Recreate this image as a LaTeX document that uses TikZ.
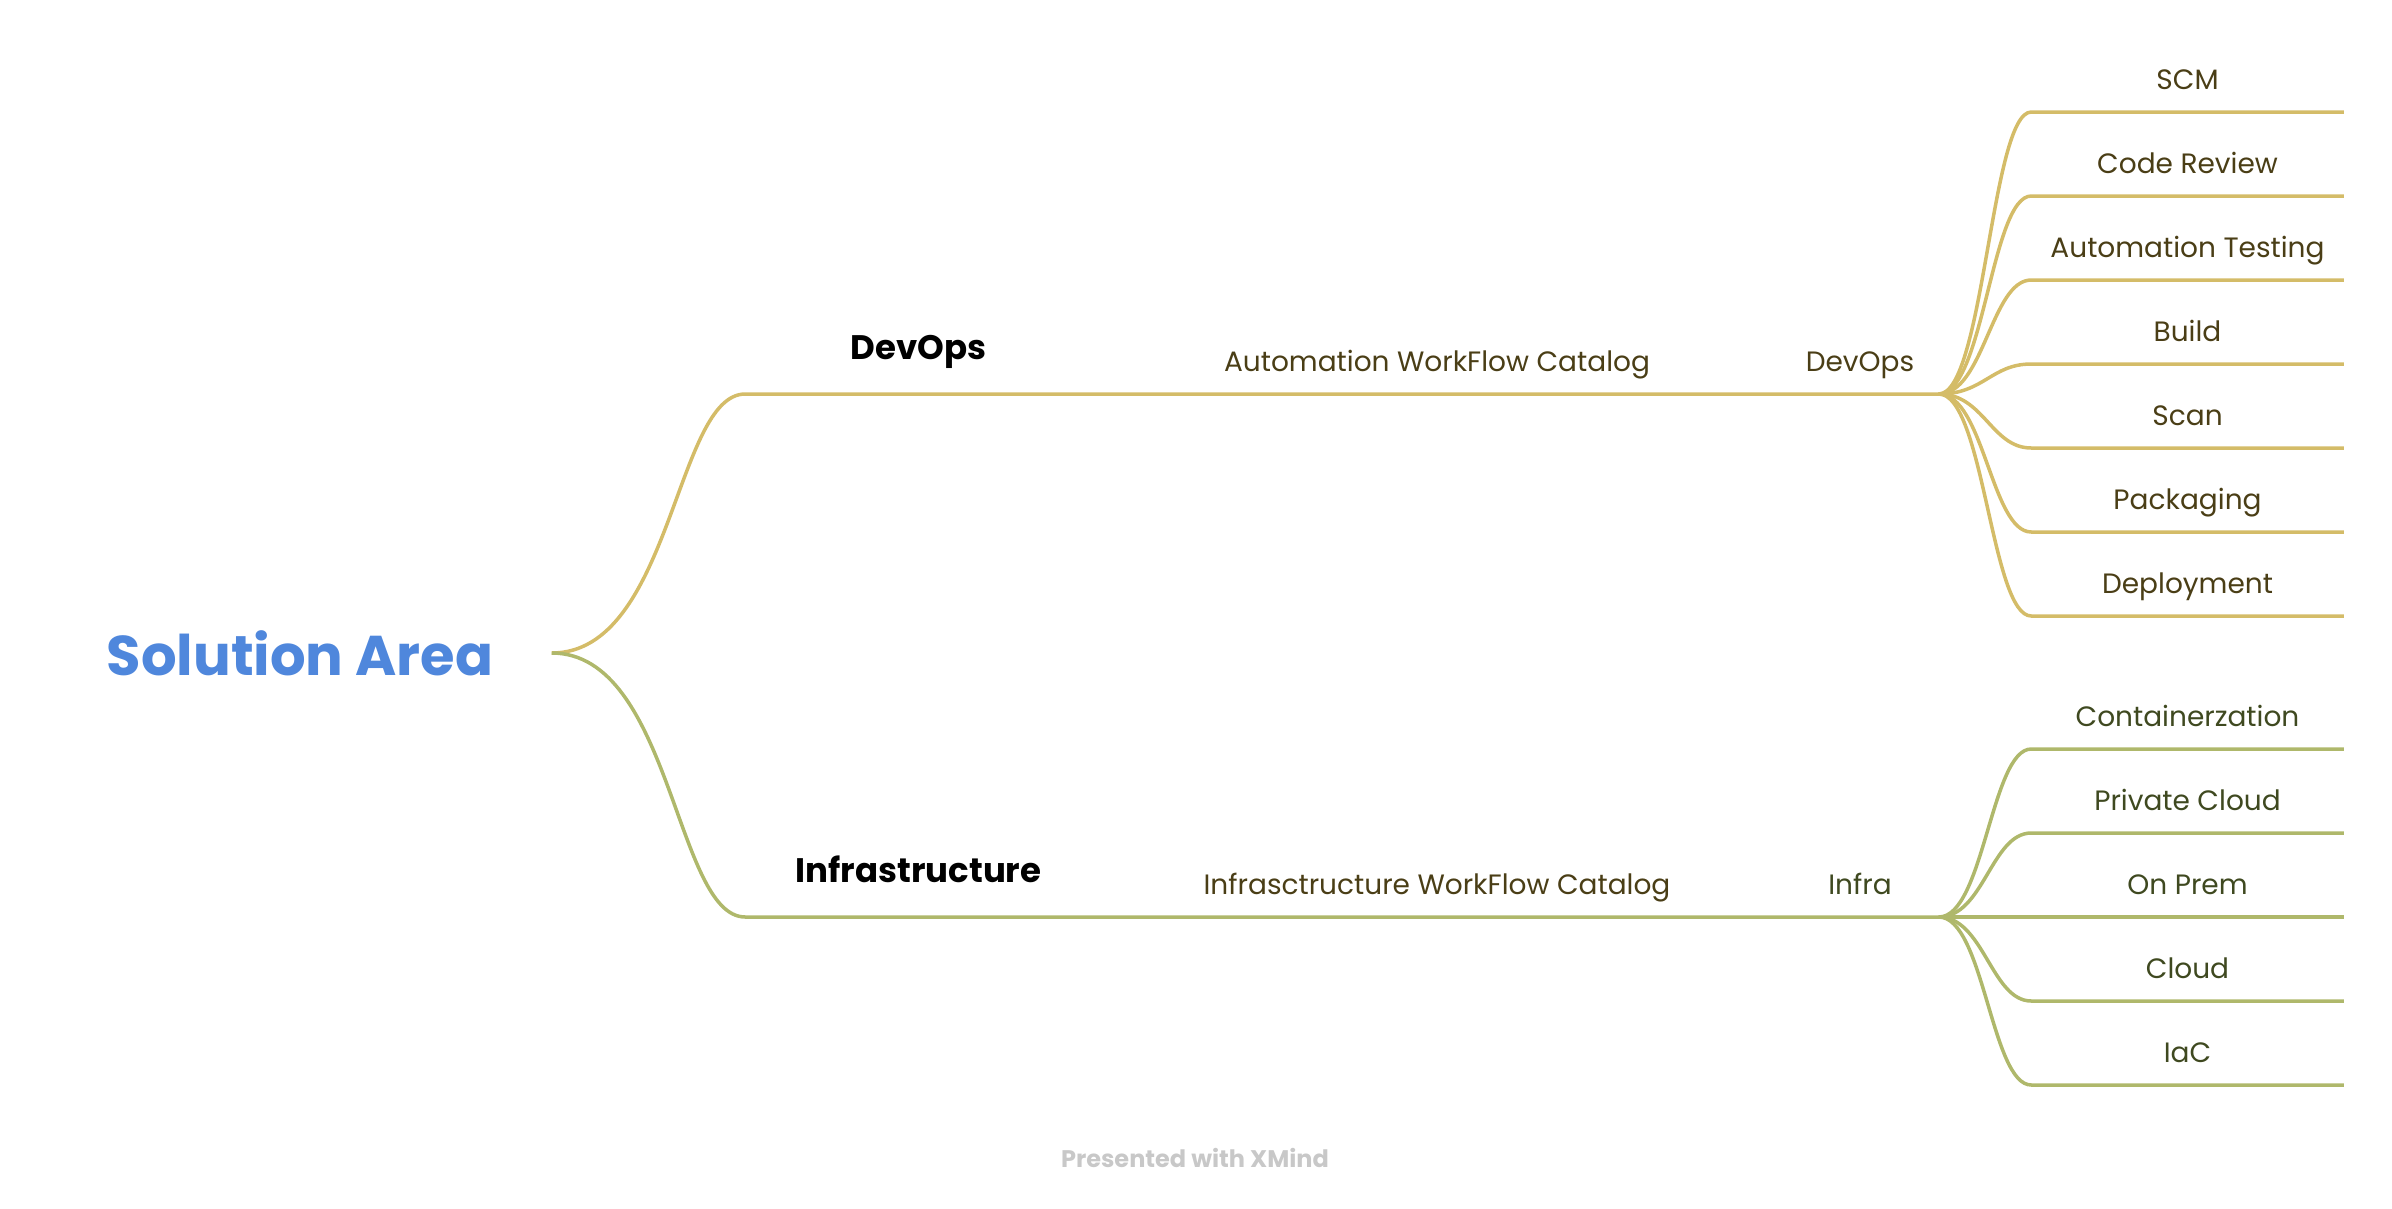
\documentclass[tikz,border=0pt]{standalone}
\usepackage{fontspec}
\setmainfont{Poppins}
\usepackage{tikz}
\usetikzlibrary{positioning}

\definecolor{rootblue}{HTML}{4F87DC}
\definecolor{devgold}{HTML}{D4BC68}
\definecolor{infgreen}{HTML}{AFB86B}
\definecolor{devtext}{HTML}{4A3E16}
\definecolor{inftext}{HTML}{3F4920}
\definecolor{wmgrey}{HTML}{C8C8C8}

\begin{document}
\begin{tikzpicture}[
    x=1pt, y=-1pt,
    line width=3.5pt,
    topic/.style={inner sep=0pt, anchor=south},
    main/.style={topic, font=\fontsize{34}{40}\selectfont\bfseries,
      text height=25pt, text depth=8pt, minimum width=343pt, minimum height=83pt},
    sub/.style={topic, font=\fontsize{28}{34}\selectfont,
      text height=20pt, text depth=7pt, minimum height=54pt},
    leaf/.style={sub, minimum width=309pt},
    devline/.style={draw=devgold},
    infline/.style={draw=infgreen}
  ]
  \useasboundingbox (0,0) rectangle (2392,1208);

  \node[font=\fontsize{56}{64}\selectfont\bfseries, text=rootblue,
    inner sep=0pt, minimum width=500pt] (root) at (300,653) {Solution Area};

  % DevOps branch
  \node[main] (devops) at (918.5,394) {DevOps};
  \node[sub, text=devtext, minimum width=474pt] (devcat) at (1437,394) {Automation WorkFlow Catalog};
  \node[sub, text=devtext, minimum width=154pt] (devtools) at (1860,394) {DevOps};
  \node[leaf, text=devtext] (scm) at (2187.5,112) {SCM};
  \node[leaf, text=devtext] (review) at (2187.5,196) {Code Review};
  \node[leaf, text=devtext] (testing) at (2187.5,280) {Automation Testing};
  \node[leaf, text=devtext] (build) at (2187.5,364) {Build};
  \node[leaf, text=devtext] (scan) at (2187.5,448) {Scan};
  \node[leaf, text=devtext] (packaging) at (2187.5,532) {Packaging};
  \node[leaf, text=devtext] (deploy) at (2187.5,616) {Deployment};

  % Infrastructure branch
  \node[main] (infra) at (918.5,917) {Infrastructure};
  \node[sub, text=devtext, minimum width=474pt] (infracat) at (1437,917) {Infrasctructure WorkFlow Catalog};
  \node[sub, text=inftext, minimum width=154pt] (infratools) at (1860,917) {Infra};
  \node[leaf, text=inftext] (container) at (2187.5,749) {Containerzation};
  \node[leaf, text=inftext] (private) at (2187.5,833) {Private Cloud};
  \node[leaf, text=inftext] (onprem) at (2187.5,917) {On Prem};
  \node[leaf, text=inftext] (cloud) at (2187.5,1001) {Cloud};
  \node[leaf, text=inftext] (iac) at (2187.5,1085) {IaC};

  \draw[devline] (root.east) .. controls +(120,0) and +(-70,0) .. (devops.south west)
    -- (devops.south east) -- (devcat.south west) -- (devcat.south east)
    -- (devtools.south west) -- (devtools.south east);
  \draw[infline] (root.east) .. controls +(120,0) and +(-70,0) .. (infra.south west)
    -- (infra.south east) -- (infracat.south west) -- (infracat.south east)
    -- (infratools.south west) -- (infratools.south east);

  \foreach \n in {scm,review,testing,build,scan,packaging,deploy}
    \draw[devline] (devtools.south east) .. controls +(45,0) and +(-40,0) .. (\n.south west) -- (\n.south east);
  \foreach \n in {container,private,onprem,cloud,iac}
    \draw[infline] (infratools.south east) .. controls +(45,0) and +(-40,0) .. (\n.south west) -- (\n.south east);

  \node[font=\fontsize{24}{28}\selectfont\bfseries, text=wmgrey] (xmind) at (1195,1158) {Presented with XMind};
\end{tikzpicture}
\end{document}
